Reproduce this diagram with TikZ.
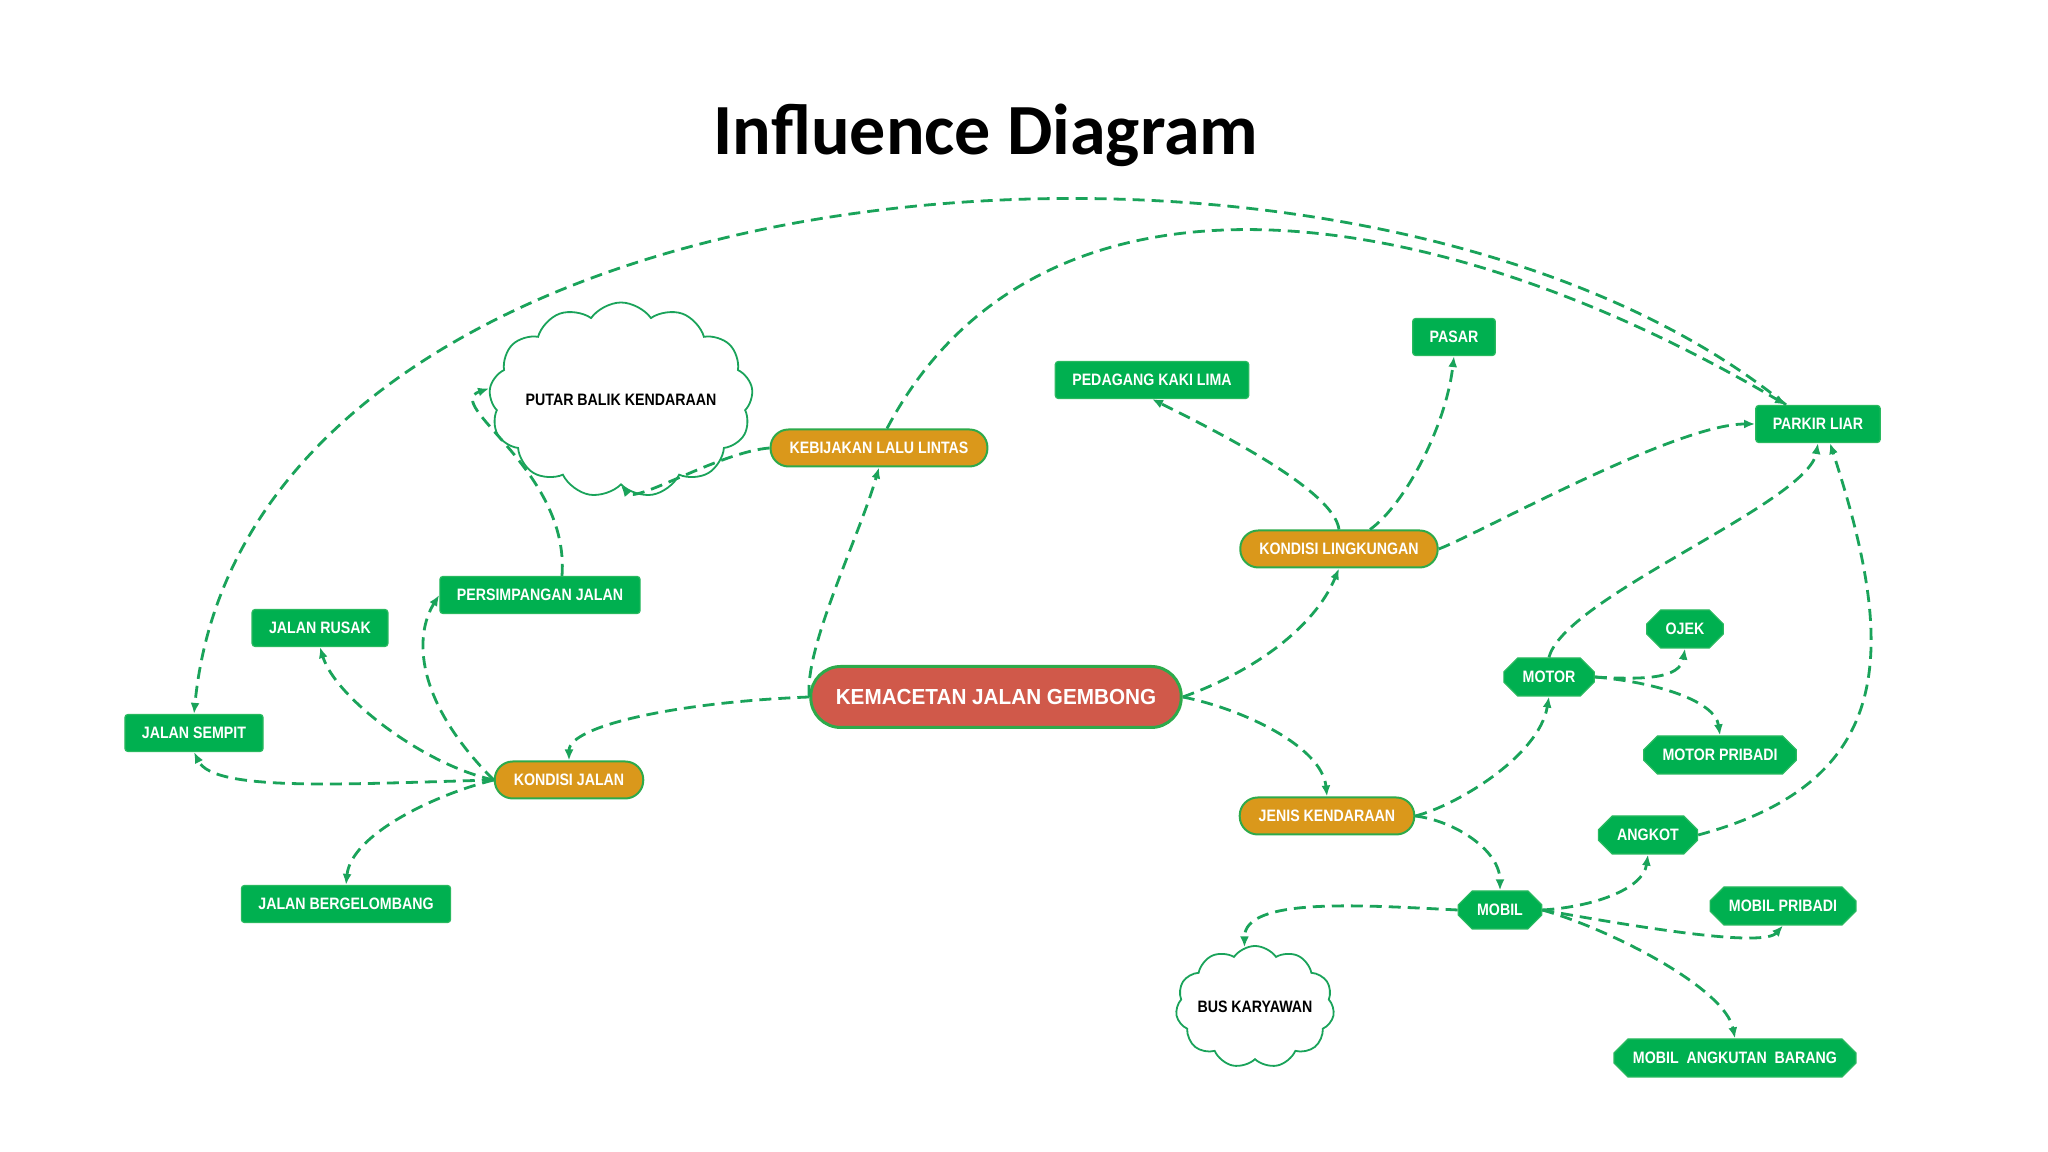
\documentclass[tikz,border=0pt]{standalone}
\usepackage{fontspec}
\setmainfont{Liberation Sans}
\newfontfamily\labelfont[FakeStretch=0.86]{Liberation Sans}
\newfontfamily\mainlabelfont[FakeStretch=0.95]{Liberation Sans}
\newfontfamily\titlefont{Carlito}
\usepackage{tikz}
\usetikzlibrary{arrows.meta,positioning,calc,shapes.misc,shapes.symbols}

\definecolor{boxgreen}{RGB}{0,176,80}
\definecolor{boxedge}{RGB}{40,185,95}
\definecolor{linkgreen}{RGB}{26,163,90}
\definecolor{pillorange}{RGB}{218,152,27}
\definecolor{pilledge}{RGB}{45,170,75}
\definecolor{mainred}{RGB}{208,89,74}

\begin{document}
\begin{tikzpicture}[
    font=\labelfont\bfseries\fontsize{4.7}{5.6}\selectfont,
    >={Latex[length=0.11cm,width=0.09cm]},
    line width=0.028cm,
    box/.style={
        draw=boxedge,
        line width=0.012cm,
        fill=boxgreen,
        rounded corners=0.03cm,
        minimum height=0.37cm,
        inner xsep=0.17cm,
        inner ysep=0pt,
        text=white
    },
    octbox/.style={
        chamfered rectangle,
        chamfered rectangle xsep=0.08cm,
        chamfered rectangle ysep=0.08cm,
        draw=boxedge,
        line width=0.012cm,
        fill=boxgreen,
        minimum height=0.38cm,
        inner xsep=0.13cm,
        inner ysep=0pt,
        text=white
    },
    pill/.style={
        draw=pilledge,
        line width=0.02cm,
        fill=pillorange,
        rounded corners=0.18cm,
        minimum height=0.37cm,
        inner xsep=0.19cm,
        inner ysep=0pt,
        text=white
    },
    mainpill/.style={
        draw=pilledge,
        line width=0.03cm,
        fill=mainred,
        rounded corners=0.3cm,
        minimum height=0.61cm,
        inner xsep=0.25cm,
        inner ysep=0pt,
        text=white,
        font=\mainlabelfont\bfseries\fontsize{6.2}{7}\selectfont
    },
    cloudbox/.style={
        cloud,
        cloud puffs=#1,
        cloud puff arc=110,
        cloud ignores aspect,
        draw=linkgreen,
        line width=0.018cm,
        fill=white,
        inner sep=0pt,
        text=black
    },
    link/.style={
        ->,
        draw=linkgreen,
        dash pattern=on 0.12cm off 0.07cm
    }
]
\useasboundingbox (0,0) rectangle (20.48,11.52);

% =========================================================
% Title
% =========================================================
\node[font=\titlefont\bfseries\fontsize{20.5}{24}\selectfont, anchor=base] (title) at (9.86,9.97) {Influence Diagram};

% =========================================================
% Nodes
% =========================================================
% core
\node[mainpill] (kemacetan) at (9.96,4.55) {KEMACETAN JALAN GEMBONG};

% first level factors
\node[pill] (kebijakan) at (8.79,7.04) {KEBIJAKAN LALU LINTAS};
\node[pill] (lingkungan) at (13.39,6.03) {KONDISI LINGKUNGAN};
\node[pill] (kondisijalan) at (5.69,3.72) {KONDISI JALAN};
\node[pill] (jenis) at (13.27,3.36) {JENIS KENDARAAN};

% road condition side
\node[cloudbox=13, minimum width=2.25cm, minimum height=1.95cm] (putar) at (6.21,7.52) {PUTAR BALIK KENDARAAN};
\node[box] (persimpangan) at (5.40,5.57) {PERSIMPANGAN JALAN};
\node[box] (rusak) at (3.20,5.24) {JALAN RUSAK};
\node[box] (sempit) at (1.94,4.19) {JALAN SEMPIT};
\node[box] (bergelombang) at (3.46,2.48) {JALAN BERGELOMBANG};

% environment side
\node[box] (pedagang) at (11.52,7.72) {PEDAGANG KAKI LIMA};
\node[box] (pasar) at (14.54,8.15) {PASAR};
\node[box] (parkir) at (18.18,7.28) {PARKIR LIAR};

% vehicle types
\node[octbox] (motor) at (15.49,4.75) {MOTOR};
\node[octbox] (ojek) at (16.85,5.23) {OJEK};
\node[octbox] (motorpribadi) at (17.20,3.97) {MOTOR PRIBADI};
\node[octbox] (mobil) at (15.00,2.42) {MOBIL};
\node[octbox] (angkot) at (16.48,3.17) {ANGKOT};
\node[octbox] (mobilpribadi) at (17.83,2.46) {MOBIL PRIBADI};
\node[octbox] (angkutan) at (17.35,0.94) {MOBIL\ \ ANGKUTAN\ \ BARANG};
\node[cloudbox=11, minimum width=1.48cm, minimum height=1.22cm] (bus) at (12.55,1.45) {BUS KARYAWAN};

% connector end points off centre
\coordinate (parkirtop) at ($(parkir.north)+(-0.32,0)$);
\coordinate (parkirbot) at ($(parkir.south)+(0.12,0)$);
\coordinate (lingtop) at ($(lingkungan.north)+(0.31,0)$);
\coordinate (persimtop) at ($(persimpangan.north)+(0.22,0)$);
\coordinate (kebtop) at ($(kebijakan.north)+(0.08,0)$);

% =========================================================
% Connectors
% =========================================================
% from the core
\draw[link] (kemacetan.west) .. controls +(-1.30,-0.05) and +(0,0.35) .. (kondisijalan.north);
\draw[link] (kemacetan.west) .. controls +(-0.05,0.50) and +(-0.20,-0.70) .. (kebijakan.south);
\draw[link] (kemacetan.east) .. controls +(0.70,0.25) and +(-0.25,-0.60) .. (lingkungan.south);
\draw[link] (kemacetan.east) .. controls +(0.60,-0.12) and +(-0.05,0.50) .. (jenis.north);

% road condition
\draw[link] (kondisijalan.west) .. controls +(-1.50,-0.04) and +(0.20,-0.40) .. (sempit.south);
\draw[link] (kondisijalan.west) .. controls +(-0.70,0.15) and +(0.15,-0.50) .. (rusak.south);
\draw[link] (kondisijalan.west) .. controls +(-0.80,0.80) and +(-0.25,-0.40) .. (persimpangan.west);
\draw[link] (kondisijalan.west) .. controls +(-0.60,-0.15) and +(0.05,0.50) .. (bergelombang.north);
\draw[link] (persimtop) .. controls +(0.08,1.06) and +(-0.48,-0.16) .. (putar.175);

% traffic policy
\draw[link] (kebijakan.west) .. controls +(-0.50,-0.04) and +(0.15,-0.18) .. (putar.south);
\draw[link] (kebtop) .. controls +(1.52,2.87) and +(-3.56,2.10) .. (parkirtop);
\draw[link] (parkirtop) .. controls +(-4.26,3.48) and +(0.55,5.70) .. (sempit.north);

% environment
\draw[link] (lingkungan.north) .. controls +(-0.05,0.40) and +(0.60,-0.30) .. (pedagang.south);
\draw[link] (lingtop) .. controls +(0.35,0.25) and +(-0.08,-0.70) .. (pasar.south);
\draw[link] (lingkungan.east) .. controls +(0.40,0.15) and +(-0.80,0) .. (parkir.west);

% vehicle types
\draw[link] (jenis.east) .. controls +(0.40,0.10) and +(-0.10,-0.60) .. (motor.south);
\draw[link] (jenis.east) .. controls +(0.40,-0.05) and +(0,0.40) .. (mobil.north);
\draw[link] (motor.north) .. controls +(0.15,0.60) and +(-0.10,-0.60) .. (parkir.south);
\draw[link] (motor.east) .. controls +(0.50,-0.03) and +(-0.05,-0.30) .. (ojek.south);
\draw[link] (motor.east) .. controls +(0.60,-0.05) and +(-0.05,0.35) .. (motorpribadi.north);
\draw[link] (angkot.east) to[out=15,in=-72,looseness=1.3] (parkirbot);
\draw[link] (mobil.east) .. controls +(0.50,0.03) and +(-0.05,-0.35) .. (angkot.south);
\draw[link] (mobil.east) .. controls +(1.00,-0.18) and +(-0.20,-0.22) .. (mobilpribadi.south);
\draw[link] (mobil.east) .. controls +(0.70,-0.20) and +(-0.10,0.50) .. (angkutan.north);
\draw[link] (mobil.west) .. controls +(-1.00,0.05) and +(0,0.50) .. (bus.100);

\end{tikzpicture}
\end{document}
